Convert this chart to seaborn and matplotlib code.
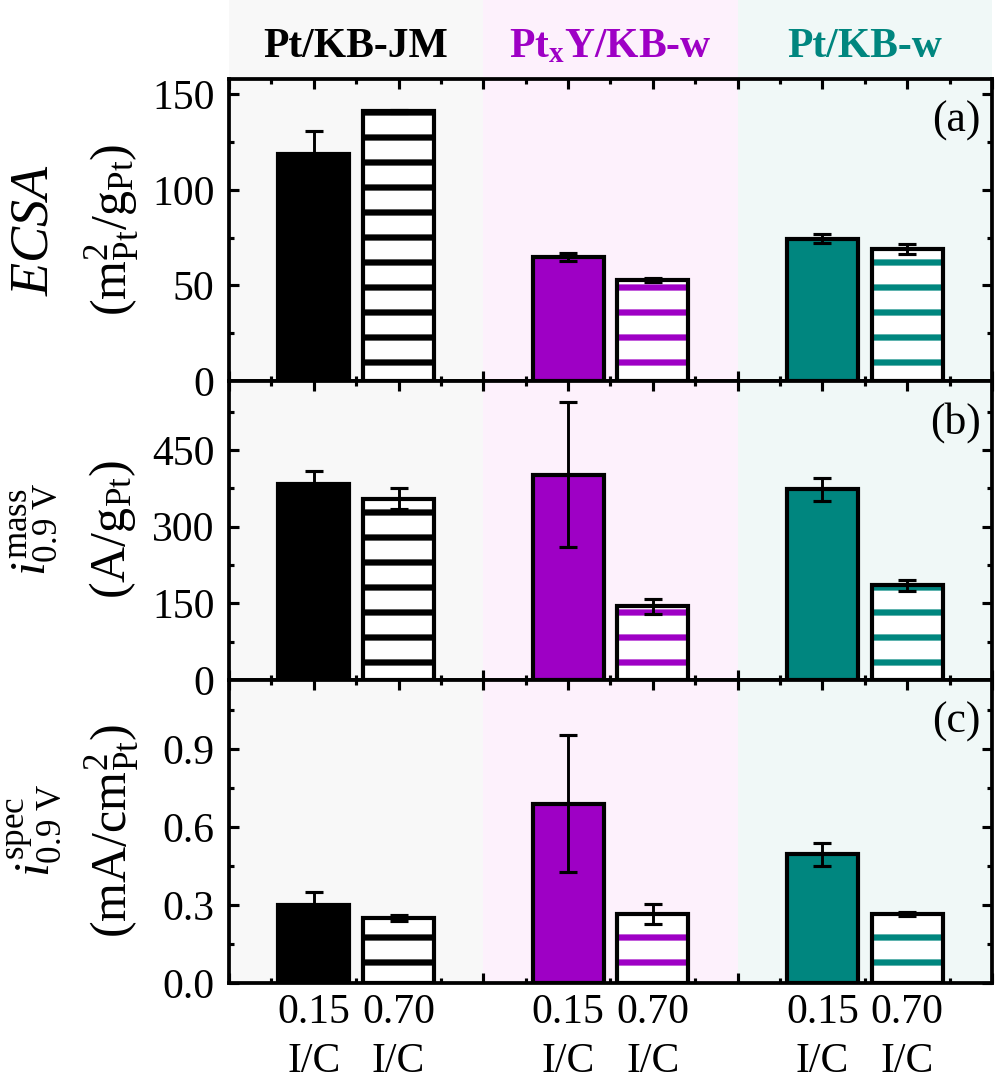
import numpy as np
import pandas as pd
import matplotlib
matplotlib.use('Agg')
import matplotlib.pyplot as plt
import seaborn as sns
from matplotlib.ticker import MultipleLocator, FormatStrFormatter

# Data
group_names = ['Pt/KB-JM', r'Pt$_\mathbf{x}$Y/KB-w', 'Pt/KB-w']
group_edges = [0, 3, 6, 9]
bar_pos = [1, 2, 4, 5, 7, 8]
bar_names = ['JM 0.15', 'JM 0.70', 'PtxY 0.15', 'PtxY 0.70', 'Pt 0.15', 'Pt 0.70']
hatched = [False, True, False, True, False, True]
tick_pos = list(range(10))
tick_labels = ['', '0.15\nI/C', '0.70\nI/C', '', '0.15\nI/C', '0.70\nI/C', '', '0.15\nI/C', '0.70\nI/C', '']

ecsa = [119, 141, 65, 53, 74.5, 69]
ecsa_err = [12, 1, 2, 1, 2.5, 2.7]
imass = [383, 355, 402, 144, 373, 185]
imass_err = [25, 20, 142, 15, 22, 10]
ispec = [0.30, 0.25, 0.69, 0.265, 0.495, 0.265]
ispec_err = [0.05, 0.01, 0.265, 0.04, 0.045, 0.008]

group_colors = ['#000000', '#9E00C5', '#00867F']
bg_colors = ['#F8F8F8', '#FDF1FC', '#F0F8F7']
bar_colors = [c for c in group_colors for _ in range(2)]
face_colors = [('white' if h else c) for c, h in zip(bar_colors, hatched)]

sns.set_style('ticks')
plt.rcParams['font.family'] = ['Liberation Serif', 'DejaVu Serif']
plt.rcParams['mathtext.fontset'] = 'custom'
plt.rcParams['mathtext.rm'] = 'Liberation Serif'
plt.rcParams['mathtext.it'] = 'Liberation Serif:italic'
plt.rcParams['mathtext.bf'] = 'Liberation Serif:bold'
plt.rcParams['hatch.linewidth'] = 3.0
plt.rcParams['axes.linewidth'] = 1.8
for key in ['text.color', 'axes.edgecolor', 'axes.labelcolor', 'xtick.color', 'ytick.color']:
    plt.rcParams[key] = 'black'

W, H = 997, 1087
fig = plt.figure(figsize=(W / 150, H / 150), dpi=150)

left, right = 229, 992


def frac_box(top, bottom):
    return [left / W, 1 - bottom / H, (right - left) / W, (bottom - top) / H]


ax_h = fig.add_axes(frac_box(0, 79))
ax_a = fig.add_axes(frac_box(79, 381))
ax_b = fig.add_axes(frac_box(381, 680), sharex=ax_a)
ax_c = fig.add_axes(frac_box(680, 983), sharex=ax_a)

# header band with group names
ax_h.set_xlim(0, 9)
ax_h.set_ylim(0, 1)
ax_h.axis('off')
for i in range(3):
    ax_h.axvspan(group_edges[i], group_edges[i + 1], color=bg_colors[i], lw=0)
    ax_h.text((group_edges[i] + group_edges[i + 1]) / 2, 0.4, group_names[i],
              color=group_colors[i], fontsize=20, fontweight='bold',
              ha='center', va='center')


def draw_panel(ax, vals, errs, ymax, major, fmt, tag):
    for i in range(3):
        ax.axvspan(group_edges[i], group_edges[i + 1], color=bg_colors[i], lw=0, zorder=0)
    df = pd.DataFrame({'pos': bar_pos, 'val': vals, 'bar': bar_names})
    n0 = len(ax.patches)
    sns.barplot(data=df, x='pos', y='val', hue='bar', hue_order=bar_names,
                palette=dict(zip(bar_names, face_colors)), native_scale=True,
                width=0.84, edgecolor='black', linewidth=2.0, errorbar=None,
                saturation=1, legend=False, ax=ax, zorder=2)
    for p in ax.patches[n0:]:
        cx = p.get_x() + p.get_width() / 2
        idx = int(np.argmin([abs(cx - b) for b in bar_pos]))
        if hatched[idx]:
            p.set_hatch('-')
            p.set_edgecolor(bar_colors[idx])
            p.set_linewidth(0)
    hp = [b for b, h in zip(bar_pos, hatched) if h]
    hv = [v for v, h in zip(vals, hatched) if h]
    ax.bar(hp, hv, width=0.84, fill=False, edgecolor='black', linewidth=2.0, zorder=3)
    ax.errorbar(bar_pos, vals, yerr=errs, fmt='none', ecolor='black',
                elinewidth=1.4, capsize=4.5, capthick=1.5, zorder=4)
    ax.set_ylim(0, ymax)
    ax.set_xlim(0, 9)
    ax.yaxis.set_major_locator(MultipleLocator(major))
    ax.yaxis.set_minor_locator(MultipleLocator(major / 2))
    ax.yaxis.set_major_formatter(FormatStrFormatter(fmt))
    ax.set_xticks(tick_pos)
    ax.xaxis.set_minor_locator(MultipleLocator(0.5))
    ax.tick_params(which='both', direction='in', top=True, right=True,
                   width=1.5, labelsize=20, pad=7)
    ax.tick_params(which='major', length=5)
    ax.tick_params(which='minor', length=2.5)
    ax.set_xlabel('')
    ax.set_ylabel('')
    ax.text(0.985, 0.93, tag, transform=ax.transAxes, ha='right', va='top', fontsize=21)


draw_panel(ax_a, ecsa, ecsa_err, 158, 50, '%d', '(a)')
draw_panel(ax_b, imass, imass_err, 585, 150, '%d', '(b)')
draw_panel(ax_c, ispec, ispec_err, 1.165, 0.3, '%.1f', '(c)')

ax_a.tick_params(labelbottom=False)
ax_b.tick_params(labelbottom=False)
ax_c.set_xticklabels(tick_labels)
ax_c.tick_params(axis='x', pad=5)
for lab in ax_c.get_xticklabels():
    lab.set_linespacing(1.35)

# y labels (two lines each)
label_rows = [
    (230, r'$ECSA$', 26, r'(m$^2_\mathrm{Pt}$/g$_\mathrm{Pt}$)'),
    (530, r'$i^\mathrm{mass}_\mathrm{0.9\ V}$', 24, r'(A/g$_\mathrm{Pt}$)'),
    (831, r'$i^\mathrm{spec}_\mathrm{0.9\ V}$', 24, r'(mA/cm$^2_\mathrm{Pt}$)'),
]
for yc, l1, s1, l2 in label_rows:
    fig.text(34 / W, 1 - yc / H, l1, rotation=90, ha='center', va='center', fontsize=s1)
    fig.text(112 / W, 1 - yc / H, l2, rotation=90, ha='center', va='center', fontsize=24)

fig.savefig('out.png', dpi=150)
